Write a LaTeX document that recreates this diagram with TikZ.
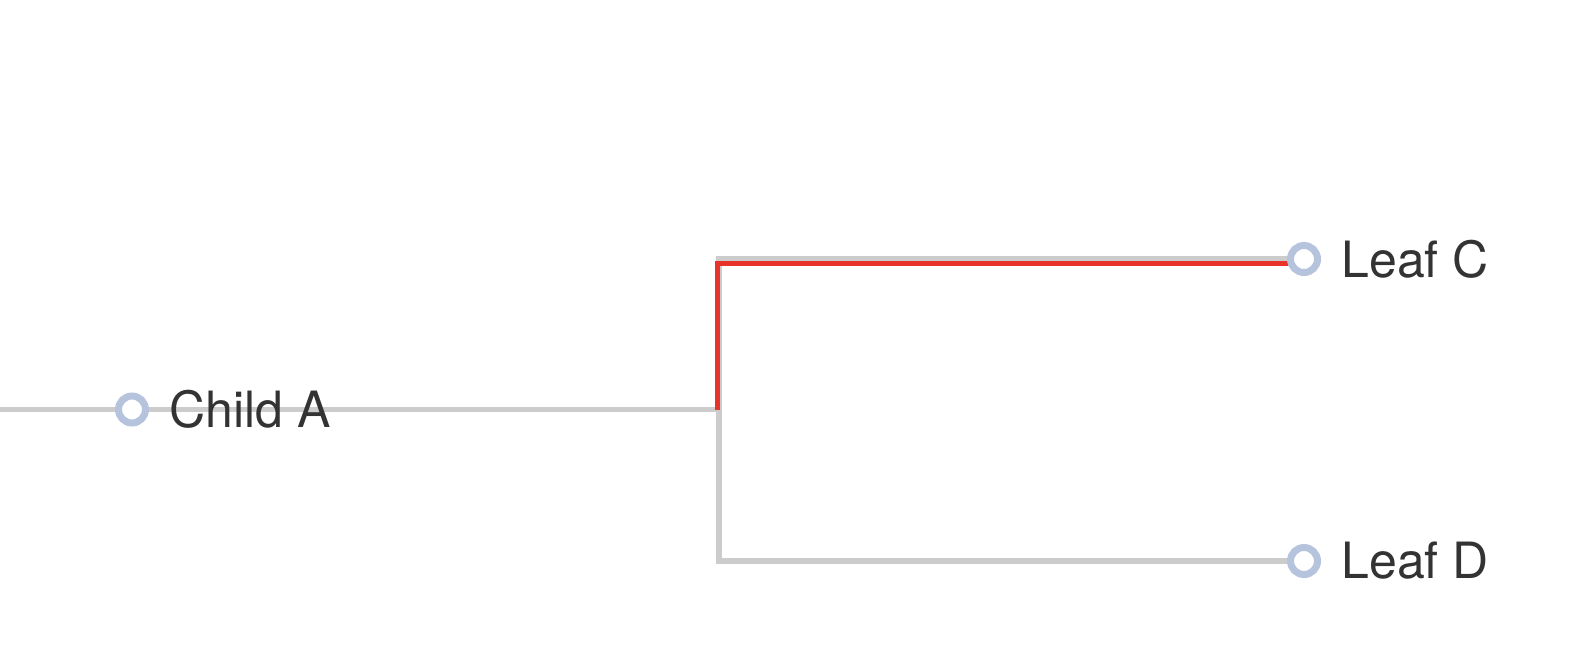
\documentclass[tikz,border=0pt]{standalone}
\usepackage{fontspec}
\setmainfont{TeX Gyre Heros}
\usetikzlibrary{backgrounds}
\definecolor{linkgray}{HTML}{CCCCCC}
\definecolor{dotblue}{HTML}{B6C3DD}
\definecolor{pathred}{HTML}{E8332A}
\definecolor{labeltext}{HTML}{333333}
\begin{document}
\begin{tikzpicture}[%
        x=0.5pt, y=-0.5pt,
        treedot/.style={shape=circle, minimum size=13.5pt, inner sep=0pt,
            line width=3.5pt, draw=dotblue, fill=white},
        treelabel/.style={anchor=west, inner sep=0pt, text=labeltext,
            font=\fontsize{25}{30}\selectfont},
        treelink/.style={draw=linkgray, line width=2.75pt},
        redlink/.style={draw=pathred, line width=2.5pt}
    ]
        \useasboundingbox (0,0) rectangle (1584,666);

        \coordinate (root) at (0,409.5);
        \coordinate (fork) at (719,409.5);

        \node [treedot] (childA) at (132,409.5) {};
        \node [treedot] (leafC) at (1304,259) {};
        \node [treedot] (leafD) at (1304,561) {};

        \foreach \n/\txt in {childA/Child A,leafC/Leaf C,leafD/Leaf D}
            \node [treelabel] (\n-label) at ([xshift=18.5pt]\n.center) {\txt};

        \begin{scope}[on background layer]
            \draw [treelink] (root) -- (childA.center) -- (fork);
            \draw [treelink] (fork) |- (leafC.center);
            \draw [treelink] (fork) |- (leafD.center);
            \draw [redlink] ([xshift=-1pt]fork) |- ([yshift=-2pt]leafC.center);
        \end{scope}
    \end{tikzpicture}
\end{document}
